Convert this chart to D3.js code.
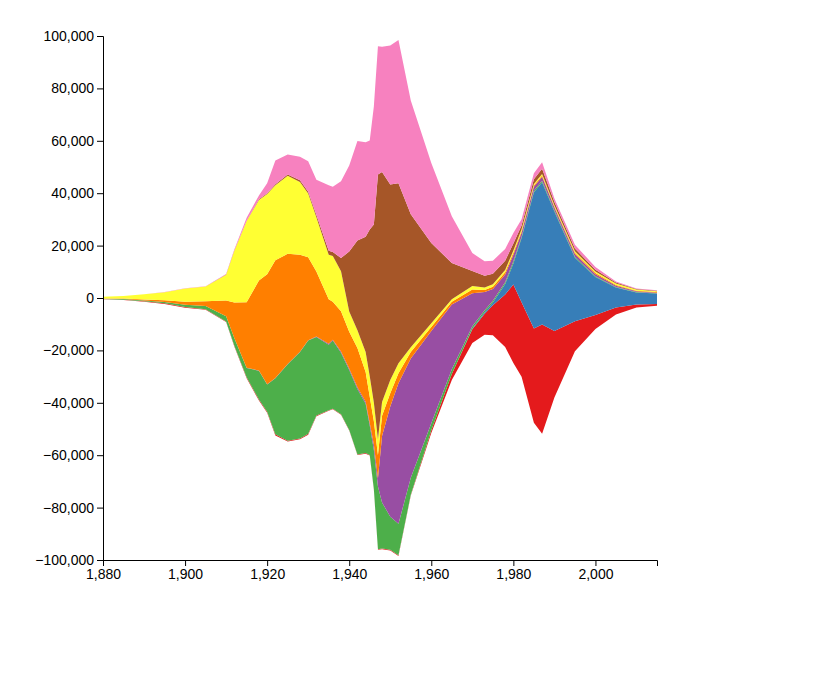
<!DOCTYPE html>
<html>
<head>
<meta charset="utf-8">
<script src="https://d3js.org/d3.v7.min.js"></script>
<style>
  body { margin: 0; background: #fff; }
  .axis text { font-family: Arial, "Liberation Sans", sans-serif; font-size: 14px; }
</style>
</head>
<body>
<div id="viz"></div>
<script>
// baby names streamgraph, values in thousands of births per year
var years = [1880,1885,1890,1895,1900,1905,1910,1912,1915,1918,1920,1922,1925,1928,1930,1932,1935,1936,1938,1940,1942,1944,1945,1946,1947,1948,1950,1952,1955,1960,1965,1970,1973,1975,1978,1980,1982,1985,1987,1990,1995,2000,2005,2010,2015];
var names = ["Amanda","Ashley","Betty","Deborah","Dorothy","Helen","Linda","Patricia"];

var amanda   = [0.1,0.15,0.2,0.2,0.3,0.2,0.2,0.3,0.4,0.4,0.4,0.4,0.3,0.3,0.3,0.3,0.2,0.2,0.2,0.2,0.2,0.2,0.2,0.2,0.2,0.2,0.3,0.3,0.3,1,2.2,5.2,8,11.5,20,30,28.5,36,41.7,25.4,11.5,5.3,2.7,1.1,0.7];
var ashley   = [0,0,0,0,0,0,0,0,0,0,0,0,0,0,0,0,0,0,0,0,0,0,0,0,0,0,0,0,0,0,0,0.3,0.6,1,4,8,24.5,52,54.3,45.6,24.2,14.5,7.6,4.6,4];
var betty    = [0.1,0.2,0.3,0.5,0.8,1.2,2,3,3.5,11,10.4,21.4,29.2,33,35.6,30,25,26,23.5,22.9,25,18.8,11.2,15,24,17.6,12.6,12,6.5,2.7,1.9,0.9,0.7,0.7,0.7,0.8,0.5,0.6,0.6,0.5,0.4,0.3,0.2,0.2,0.1];
var deborah  = [0,0,0,0,0,0,0,0,0.1,0.1,0.1,0.1,0.1,0.1,0.1,0.2,0.3,0.3,0.4,0.5,0.6,0.8,1,2,3,25.4,42,53.7,45.5,35.2,24.7,12.6,7,4.5,3,2.5,1.5,1.5,1.5,1,1,0.8,0.5,0.3,0.2];
var dorothy  = [0.1,0.2,0.4,0.7,1.2,1.9,6,13.5,25,34.3,42,45,42,37,31.7,24.8,17,14.5,15.4,14.1,15,11.4,10,9,9,7.7,5.1,3.8,2.5,1.5,1,1.4,0.8,0.8,0.8,0.8,0.6,0.5,0.5,0.4,0.5,0.4,0.3,0.2,0.2];
var helen    = [0.6,1,2,3,5,5.6,9.9,19.8,31,30.8,30.6,28.6,29.8,27.8,24.3,20.7,17,17.5,15.3,7.7,6.8,7.6,7.8,7,6,5.3,5.1,3.8,1.8,1.5,1,1.3,0.9,1,0.9,0.8,0.7,0.6,0.6,0.5,0.6,0.6,0.5,0.4,0.3];
var linda    = [0,0,0,0,0,0,0.1,0.1,0.1,0.2,0.3,0.4,0.5,0.6,0.7,0.8,1.5,1.5,5,22.9,34.2,44,56,68,101,87.7,74.6,68.7,50.8,30.6,13.8,5.8,4.5,4,3.5,2.7,1.5,1.8,2,1.2,1,0.7,0.4,0.2,0.2];
var patricia = [0,0,0,0.1,0.1,0.1,0.2,0.4,1.2,1.5,3.8,9,7.6,9,11.6,13.5,25,24.9,29.3,32.8,38,36,34,45,49,47.8,53,54.7,43.4,30.5,17.9,6.8,5.5,5,4.5,4,2.4,2.3,2.5,1.4,1.5,1,0.4,0.2,0.2];

var series = [amanda, ashley, betty, deborah, dorothy, helen, linda, patricia];
var colors = ["#e41a1c","#377eb8","#4daf4a","#984ea3","#ff7f00","#ffff33","#a65628","#f781bf"];

var rows = years.map(function (yr, i) {
    var row = { year: yr };
    names.forEach(function (n, k) { row[n] = series[k][i] * 1000; });
    return row;
});

var margin = {top: 36, right: 166, bottom: 127, left: 103},
    width = 823 - margin.left - margin.right,
    height = 687 - margin.top - margin.bottom;

var svg = d3.select("#viz").append("svg")
    .attr("width", 823)
    .attr("height", 687)
  .append("g")
    .attr("transform", "translate(" + margin.left + "," + margin.top + ")");

var x = d3.scaleLinear().domain([1880, 2015]).range([0, width]);
var y = d3.scaleLinear().domain([-100000, 100000]).range([height, 0]);

var stacked = d3.stack()
    .offset(d3.stackOffsetSilhouette)
    .keys(names)(rows);

var color = d3.scaleOrdinal().domain(names).range(colors);

var area = d3.area()
    .x(function (d) { return x(d.data.year); })
    .y0(function (d) { return y(d[0]); })
    .y1(function (d) { return y(d[1]); });

svg.selectAll(".layer")
    .data(stacked)
    .enter()
    .append("path")
    .attr("class", "layer")
    .style("fill", function (d) { return color(d.key); })
    .attr("d", area);

svg.append("g")
    .attr("class", "axis")
    .attr("transform", "translate(0," + height + ")")
    .call(d3.axisBottom(x).ticks(7));

svg.append("g")
    .attr("class", "axis")
    .call(d3.axisLeft(y));
</script>
</body>
</html>
